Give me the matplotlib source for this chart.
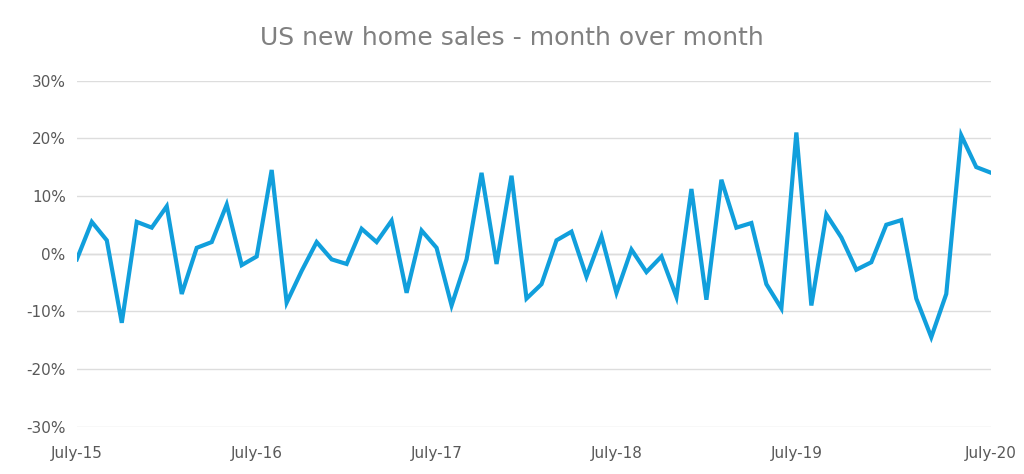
import matplotlib.pyplot as plt
from matplotlib.ticker import FuncFormatter

# month-over-month change, %, starting July 2015
mom_change = [
    -1, 5.5, 2.3, -12, 5.5, 4.5, 8.2, -7, 1, 2, 8.5, -2, -0.5, 14.5,
    -8.5, -3, 2, -1, -1.8, 4.3, 2, 5.7, -6.8, 4, 1, -9, -1, 14,
    -1.8, 13.5, -7.8, -5.3, 2.3, 3.8, -4, 3, -6.8, 0.7, -3.2, -0.5, -7.5, 11.2,
    -8, 12.8, 4.5, 5.3, -5.3, -9.5, 21, -9, 6.8, 2.8, -2.8, -1.5, 5, 5.8,
    -7.8, -14.5, -7, 20.5, 15, 14,
]
tick_pos = [0, 12, 24, 36, 48, 61]
tick_labels = ["July-15", "July-16", "July-17", "July-18", "July-19", "July-20"]

fig, ax = plt.subplots(figsize=(10.24, 4.74), dpi=100)
fig.subplots_adjust(left=0.075, right=0.968, top=0.83, bottom=0.1)

ax.plot(range(len(mom_change)), mom_change, color="#119fdc", lw=3,
        solid_joinstyle="miter")
ax.set_xlim(0, len(mom_change) - 1)
ax.set_ylim(-30, 30)
ax.set_yticks(range(-30, 31, 10))
ax.yaxis.set_major_formatter(FuncFormatter(lambda v, p: f"{v:.0f}%"))
ax.set_xticks(tick_pos)
ax.set_xticklabels(tick_labels)
ax.grid(axis="y", color="#dddddd", lw=1)
ax.tick_params(length=0, colors="#595959", labelsize=11)
ax.tick_params(axis="x", pad=14)
ax.tick_params(axis="y", pad=8)
for s in ax.spines.values():
    s.set_visible(False)
ax.axhline(0, color="#d0d0d0", lw=1, zorder=0)
fig.suptitle("US new home sales - month over month", color="#808080",
             fontsize=18, y=0.945)
fig.savefig("out.png")
